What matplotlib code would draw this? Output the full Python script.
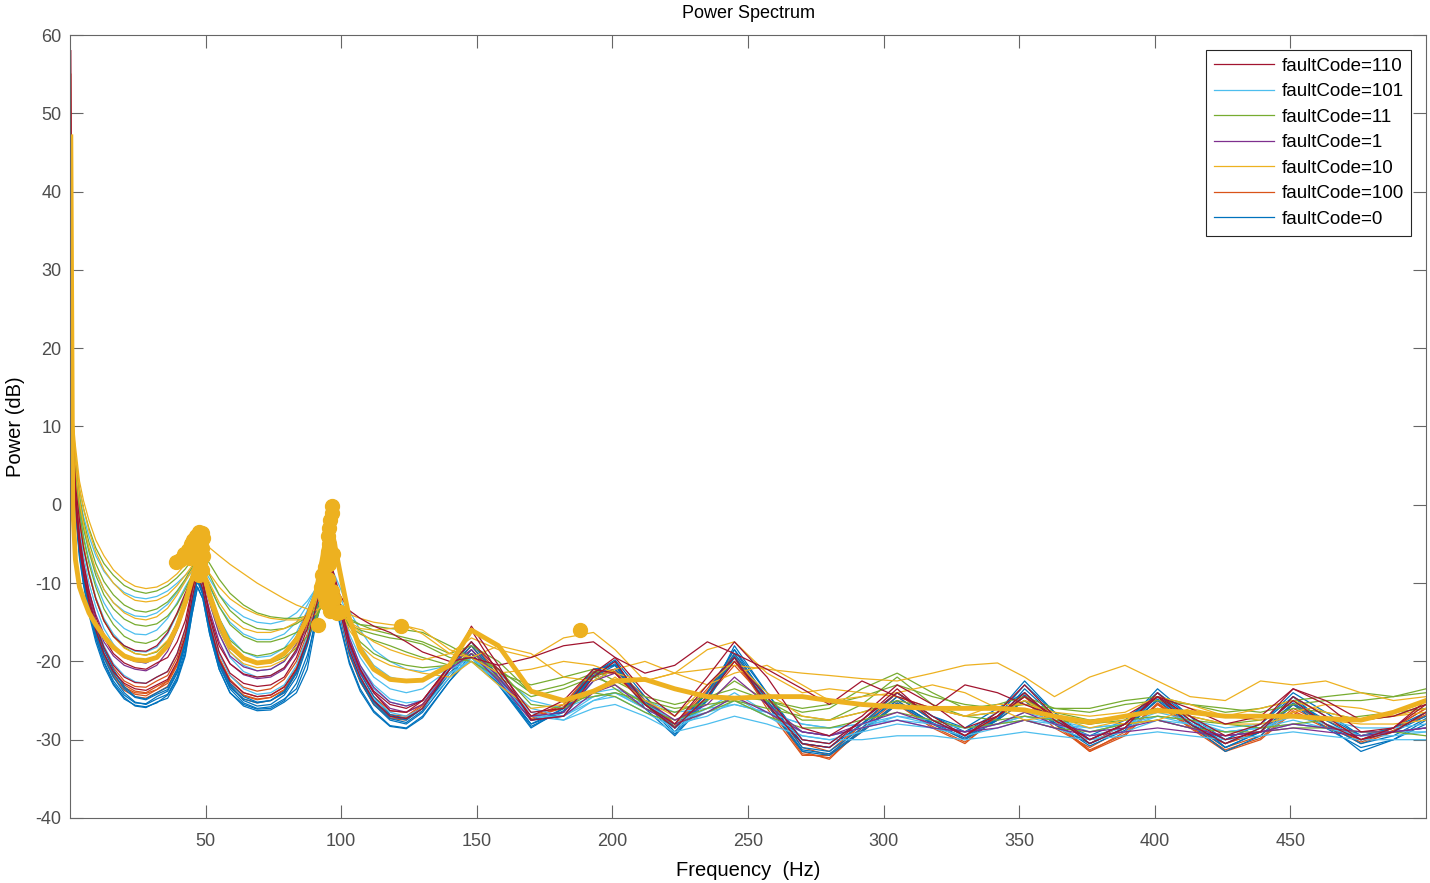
import matplotlib.pyplot as plt
import numpy as np

# frequency grids (Hz): fine below 130 Hz, coarser above
freq_low = [0.3, 1, 2, 3.5, 5, 7, 9.5, 12.5, 16, 20, 24, 28, 32, 36, 39.5, 42.5, 45, 47, 49, 51.5,
            55, 59, 64, 69, 74, 79, 83.5, 87.5, 90.5, 93, 95, 97, 99.5, 103, 107, 112, 118, 124, 130]
freq_high = [140, 148, 158, 170, 182, 193, 201, 212, 223, 235, 245, 257, 270, 280, 292, 305,
             318, 330, 342, 352, 363, 376, 389, 401, 413, 426, 439, 451, 463, 476, 488, 500]

# power (dB), a few traces per fault code
fc0_low = [
    [30, 8, 0, -6, -9.5, -13, -16.5, -19.5, -22, -24, -25.2, -25.5, -24.8, -24.2, -22, -18.5, -13.5, -9.5, -11.5, -16,
     -20.5, -23.5, -25.3, -26, -25.8, -24.8, -23.5, -20, -14.5, -11, -9, -10, -14, -19, -22.5, -25.5, -27.5, -28, -26.5],
    [20, 7, -0.5, -6.5, -10, -13.5, -17, -20, -22.5, -24.3, -25.3, -25.4, -24.5, -23.8, -21.5, -18, -13, -9, -11, -15.5,
     -20, -23, -25, -25.7, -25.5, -24.3, -22, -18, -14, -10.5, -8.5, -9.5, -13.5, -18.5, -22, -25, -27, -27.5, -26],
    [35, 9, 1, -5, -8.5, -12, -15.5, -18.5, -21, -23.2, -24.5, -24.8, -24, -23.3, -21, -17.5, -12.5, -9.8, -11.5, -16,
     -20.5, -23.3, -24.8, -25.3, -25, -24, -21.5, -17.5, -13.5, -10, -8, -9.5, -13, -18, -21.5, -24.5, -26.8, -27.3, -26],
    [25, 7.5, 0, -6, -9.8, -13.5, -17, -20.2, -22.8, -24.6, -25.7, -25.9, -25.2, -24.7, -22.5, -19.3, -14, -10.5, -12, -16.5,
     -21, -24, -25.7, -26.3, -26.2, -25.2, -24, -21, -15.5, -12, -9.5, -11, -15, -20, -23.5, -26.3, -28.2, -28.5, -27],
    [28, 8.5, 0.5, -5.5, -9, -12.5, -16, -19, -21.5, -23.5, -24.6, -24.9, -24.2, -23.6, -21.3, -17.8, -12.8, -9.2, -11, -15.5,
     -20, -22.8, -24.5, -25.2, -25, -23.8, -21.3, -17.3, -13.3, -10.3, -8.5, -9.8, -13.8, -18.8, -22.3, -25.2, -27.3, -27.8, -26.3],
    [22, 7, -0.8, -6.8, -10.3, -14, -17.5, -20.6, -23, -24.8, -25.6, -25.8, -25.3, -24.3, -22.3, -19, -14, -10.5, -12, -16.5,
     -21, -24, -25.5, -26.1, -26, -25, -22.8, -19.2, -15.3, -11.8, -9.8, -11.3, -15.3, -20.3, -23.8, -26.5, -28.3, -28.6, -27.2],
]
fc0_high = [
    [-22, -18.5, -22.5, -28, -26.5, -22, -20.5, -25, -29, -24.5, -19, -24.5, -31, -31.5, -28.5, -24.5,
     -27.5, -29.5, -27.5, -23.5, -27, -30.5, -28.5, -24.5, -27.5, -30.5, -28.5, -25, -27.5, -30, -29, -27],
    [-21.5, -19, -23, -28.5, -26, -21.5, -20, -25.5, -28.5, -24, -18.5, -25, -30.5, -31, -28, -25,
     -28, -29, -26.5, -22.5, -26.5, -30, -28, -23.5, -27, -31, -29, -24.5, -28, -31.5, -30, -28],
    [-21, -17.5, -22, -27.5, -27, -22.5, -21, -25, -28.5, -25, -18, -24, -30, -30.5, -27.5, -24,
     -27, -28.5, -26, -24, -27.5, -29.5, -27.5, -24, -28, -30, -28, -24, -26.5, -29.5, -29, -26.5],
    [-22.5, -19.5, -23, -28, -26, -21, -20.5, -26, -29.5, -25, -19.5, -25.5, -31.5, -32, -29, -25.5,
     -28, -30, -27.5, -25, -28, -30.5, -28.5, -25, -28, -31.5, -29.5, -25.5, -28.5, -31, -30, -27.5],
    [-21, -18, -22, -27.5, -26.5, -21.5, -19.8, -24.5, -28.5, -24, -18.5, -24, -30.5, -31, -28, -24,
     -27, -29, -27, -23, -26.5, -30, -28, -24, -27, -30, -28, -24.5, -27, -29.5, -28.5, -26.5],
    [-22.5, -19, -22.8, -28.3, -26.3, -21.8, -20.3, -25.3, -29.3, -24.8, -19.3, -25.3, -31.3, -31.8, -28.8, -25.3,
     -27.8, -29.8, -27.3, -24.3, -27.8, -30.8, -28.8, -24.8, -27.8, -31, -29, -25.3, -28, -30.5, -29.5, -27.3],
]

fc100_low = [
    [55, 8.5, 0.5, -5.5, -9, -12.5, -16, -19, -21.3, -23, -23.8, -24, -23.2, -22.5, -20.3, -17, -12, -8.8, -10.5, -15,
     -19.5, -22.3, -24, -24.5, -24.3, -23.2, -20.8, -17, -13, -10, -8, -9.5, -13.5, -18.5, -22, -25, -26.8, -27, -25.5],
    [40, 9, 1, -5, -8.5, -12, -15.5, -18.5, -20.8, -22.5, -23.2, -23.3, -22.5, -21.8, -19.5, -16.3, -11.5, -8.3, -10, -14.5,
     -19, -21.8, -23.3, -23.8, -23.5, -22.3, -20, -16.5, -12.5, -9.5, -7.5, -9, -13, -18, -21.5, -24.5, -26.3, -26.5, -25.5],
    [20, 7.5, 0, -6, -9.5, -13, -16.5, -19.5, -22, -23.7, -24.5, -24.7, -24, -23.2, -21, -17.8, -12.8, -9.3, -11.3, -15.8,
     -20.3, -23.2, -24.8, -25.3, -25, -24, -21.5, -17.8, -13.8, -10.8, -8.5, -10, -14, -19, -22.5, -25.5, -27.3, -27.5, -26],
    [30, 8, 0.3, -5.8, -9.3, -12.8, -16.3, -19.3, -21.7, -23.4, -24.2, -24.4, -23.6, -22.8, -20.5, -17.3, -12.3, -8.8, -10.8, -15.3,
     -19.8, -22.8, -24.4, -24.9, -24.6, -23.6, -21.2, -17.4, -13.4, -10.4, -8, -9.7, -13.7, -18.7, -22.2, -25.2, -27, -27.2, -25.7],
    [25, 7.8, 0, -6, -9.5, -13, -16.5, -19.5, -21.8, -23.3, -24, -24.1, -23.6, -22.5, -20.5, -17.3, -12.5, -9.5, -11.3, -15.5,
     -19.8, -22.8, -24.3, -24.8, -24.6, -23.7, -21.5, -17.8, -13.8, -10.6, -8.5, -10.2, -14.2, -19.2, -22.6, -25.5, -27.2, -27.4, -26],
]
fc100_high = [
    [-21, -18, -22, -27, -26, -22, -21, -24.5, -28, -24, -20, -25.5, -31.5, -32.5, -28.5, -25,
     -28, -30, -27, -24.5, -28, -31.5, -29, -25.5, -28, -31, -29.5, -26, -28, -30.5, -29, -26.5],
    [-20.5, -17.5, -21.5, -27.5, -26.5, -21.5, -21, -25, -28.5, -24.5, -20.5, -25, -31, -32, -28, -24.5,
     -27.5, -29.5, -27.5, -25, -28.5, -31, -28.5, -25, -28.5, -30.5, -29, -25.5, -28, -30, -28.5, -26],
    [-21.5, -18.5, -22.5, -27.5, -25.5, -21.5, -21.5, -25.5, -28.5, -24, -19.5, -26, -32, -32, -29, -25.5,
     -28.5, -30.5, -27, -24, -27.5, -31.5, -29.5, -25.5, -28.5, -31.5, -30, -26.5, -28.5, -30, -28.5, -27],
    [-20.5, -17.5, -22, -27, -25.5, -21, -20.5, -25, -28, -23.5, -19, -25, -30.5, -31.5, -28, -24,
     -27.5, -29.5, -27, -24.5, -28, -30.5, -28, -24.5, -28, -30.5, -29, -25.5, -27.5, -29.5, -28.5, -26],
    [-21, -18, -22.3, -27.3, -25.8, -21.3, -21.3, -25.3, -28.3, -23.8, -19.3, -25.5, -31.8, -32.3, -28.8, -25.3,
     -28.3, -30.3, -27.3, -24.3, -27.8, -31.3, -29.3, -25.3, -28.3, -31.3, -29.8, -26.3, -28.3, -30.3, -28.8, -26.8],
]

fc101_low = [
    [15, 10, 5, 1, -1.5, -4, -6.5, -8.5, -10, -11.2, -11.8, -12, -11.7, -11, -10, -9, -8.2, -7.5, -8, -9.5,
     -11.5, -13, -14.3, -15, -15.2, -14.8, -13.8, -12.3, -10.8, -9, -7.8, -8.5, -10.5, -13.5, -16, -18.5, -20, -21, -21.3],
    [20, 9, 3.5, -1, -4, -7, -10, -12.5, -14.5, -15.8, -16.5, -16.6, -16, -14.5, -12.5, -10.5, -9, -8, -9, -11.5,
     -14.5, -17, -18.8, -19.5, -19.3, -18.3, -16.3, -13.5, -11, -8.8, -8, -9.5, -12.5, -16.5, -19.5, -22, -23.5, -24, -23.5],
    [25, 8.5, 2, -3, -6.5, -10, -13, -15.8, -17.8, -19.3, -20, -20.2, -19.5, -17.8, -15.3, -12.5, -10.3, -8.5, -9.5, -12.5,
     -16.5, -19.5, -21.3, -22, -21.8, -20.8, -18.5, -15.3, -12.5, -9.8, -8.5, -10, -13.5, -17.5, -20.8, -23.5, -25.2, -25.7, -25],
    [22, 8, 1, -4.5, -8, -11.5, -15, -18, -20.3, -21.8, -22.6, -22.8, -22, -21.3, -19, -16, -11.8, -8.7, -10.5, -14.5,
     -19, -21.8, -23.5, -24.2, -24, -23, -20.5, -16.8, -13, -10, -8.3, -10, -14, -18.5, -22, -24.8, -26.5, -27, -26],
    [18, 9, 3, -2, -5.5, -8.5, -11.8, -14.5, -16.5, -18, -18.7, -18.8, -18.2, -16.5, -14, -11.5, -9.5, -7.5, -8.8, -12,
     -15.8, -18.8, -20.5, -21.2, -21, -20, -17.8, -14.8, -12, -9.3, -7.8, -9.5, -13, -17, -20.5, -23, -24.8, -25.3, -25],
    [16, 9.5, 4, -0.5, -3, -5.8, -8.5, -10.8, -12.5, -13.6, -14.2, -14.3, -13.8, -12.7, -11.2, -9.7, -8.5, -7.8, -8.5, -10.5,
     -13, -15, -16.5, -17.2, -17.2, -16.5, -15, -12.8, -10.8, -8.8, -7.8, -9, -11.5, -15, -18, -20.5, -22, -22.5, -22.3],
]
fc101_high = [
    [-20.5, -19.5, -21, -24, -25, -24, -23.5, -25, -26.5, -26, -25.5, -26.5, -28, -28.5, -28, -27,
     -27.5, -28.5, -28, -27, -27.5, -28.5, -28, -27, -27.5, -28.5, -28, -27, -27.5, -28.5, -28.5, -28],
    [-21, -19.5, -22, -26, -27, -25, -24, -26, -28, -27, -25, -27, -29, -29.5, -28.5, -27.5,
     -28.5, -29, -28, -27, -28, -29.5, -28.5, -27, -28, -29, -28.5, -27.5, -28.5, -29.5, -29, -28.5],
    [-21.5, -20, -23, -27, -27.5, -25, -24.5, -26.5, -28.5, -26.5, -24.5, -27, -29.5, -30, -29, -28,
     -28.5, -29.5, -28.5, -27.5, -28.5, -30, -29, -27.5, -28.5, -29.5, -29, -28, -28.5, -29.5, -29.5, -29],
    [-22, -19.5, -22.5, -27, -27, -24.5, -24, -26, -28, -26, -24, -26.5, -29, -29.5, -28.5, -27,
     -28, -29, -28, -26.5, -27.5, -29, -28, -26.5, -27.5, -29, -28.5, -27, -28, -29.5, -29, -28.5],
    [-21.5, -20, -22.5, -26.5, -27.5, -26, -25.5, -27, -29, -28, -27, -28, -29.5, -30, -30, -29.5,
     -29.5, -30, -29.5, -29, -29.5, -30, -29.5, -29, -29.5, -30, -29.5, -29, -29.5, -30, -30, -30],
    [-21, -20, -21.5, -25, -26, -24.5, -24, -25.5, -27.5, -26.5, -25.5, -26.5, -28, -28.5, -28, -27.5,
     -28, -28.5, -28, -27.5, -28, -28.5, -28, -27.5, -28, -29, -28.5, -28, -28.5, -29, -29, -29],
]

fc110_low = [
    [58, 8, 0.5, -5, -8.5, -12, -15.3, -18.2, -20.5, -22, -22.7, -22.8, -22, -21.3, -19, -15.8, -11, -7.8, -9.8, -14.3,
     -18.8, -21.5, -22.8, -23.2, -23, -22, -19.5, -15.8, -12, -8.8, -6.5, -8.5, -12.5, -17.5, -21, -24, -26.3, -26.5, -25],
    [35, 9.5, 2.5, -2, -5.5, -8.8, -12, -14.8, -16.8, -18, -18.6, -18.7, -18, -16.3, -13.8, -11.3, -9.3, -7.5, -8.5, -11.5,
     -15.5, -18.3, -19.7, -20.2, -20, -19, -16.8, -13.8, -11, -8.5, -7, -8.5, -11.5, -13.5, -14.5, -15.5, -16.3, -17.5, -18.8],
    [25, 8.5, 1.5, -4, -7.5, -11, -14.3, -17, -19, -20.2, -20.8, -21, -20.2, -19.5, -17.5, -14.8, -10.8, -8.2, -10, -14,
     -18, -20.3, -21.6, -22, -21.8, -20.8, -18.5, -15, -11.5, -8.8, -7, -8.8, -12.8, -17.5, -21, -23.8, -25.5, -26, -25],
    [30, 7.5, 0, -5.5, -9, -12.5, -16, -19, -21.3, -22.8, -23.5, -23.7, -23, -22.3, -20, -16.8, -12, -8.8, -10.8, -15.2,
     -19.8, -22.5, -24, -24.5, -24.3, -23.3, -21, -17.3, -13.3, -10, -7.5, -9.5, -13.5, -18.5, -22, -25, -27, -27.3, -26],
]
fc110_high = [
    [-20.5, -16, -21.5, -27, -25, -21, -21.5, -25.5, -28, -23, -19.5, -25.5, -30.5, -31, -27.5, -24,
     -27, -29.5, -27, -24, -27.5, -30, -28, -24.5, -28, -30.5, -28.5, -25, -28, -30, -28.5, -25.5],
    [-20, -19.5, -20.5, -19.5, -18, -17.5, -19.5, -21.5, -20.5, -17.5, -19, -21, -23.5, -25.5, -22.5, -24.5,
     -26, -23, -24, -25.5, -27, -28, -27, -24.5, -26, -28, -27, -23.5, -25, -27.5, -27, -25.5],
    [-20.5, -17.5, -21, -26.5, -26, -21.5, -19.5, -24, -27, -22, -17.5, -22, -28.5, -29.5, -27, -23,
     -25.5, -28.5, -27, -24.5, -27, -30, -28, -24.5, -27, -29.5, -28, -23.5, -25.5, -29, -28.5, -25],
    [-21, -15.5, -20.5, -27.5, -27, -22, -20, -25.5, -28.5, -24.5, -20, -24.5, -30, -30.5, -27.5, -23.5,
     -27.5, -29.5, -26.5, -23, -27, -30.5, -28.5, -24, -27.5, -30, -29, -24.5, -27, -30, -29, -26.5],
]

fc11_low = [
    [15, 11, 6, 2, -0.5, -3, -5.5, -7.5, -9, -10.3, -11, -11.3, -11, -10.3, -9.3, -8.2, -7, -5.8, -6.3, -7.5,
     -9.5, -11.3, -12.8, -13.8, -14.3, -14.5, -14.5, -14.2, -13.5, -12, -10, -11.5, -13.5, -14.8, -15.3, -15.5, -15.8, -16, -16.3],
    [18, 10, 4.5, 0, -3, -6, -9, -11.5, -13.3, -14.6, -15.3, -15.5, -15.2, -14.2, -12.7, -10.8, -9, -7.5, -8.3, -10.3,
     -13, -15.3, -16.8, -17.5, -17.5, -17, -16.3, -15.5, -14.5, -12.8, -10.5, -12, -14, -15.3, -16, -16.5, -17, -17.3, -17.8],
    [20, 9, 3, -2, -5.3, -8.8, -12, -14.8, -16.8, -18.2, -19, -19.2, -18.8, -17.5, -15.5, -13, -10.8, -8.3, -9.3, -12,
     -15.5, -18.3, -19.8, -20.3, -20.2, -19.5, -18.3, -16.8, -15, -12.5, -9.5, -11, -13.5, -15.5, -16.5, -17.3, -18, -18.8, -19.5],
    [25, 9.5, 3.5, -1, -4.3, -7.5, -10.5, -13.3, -15.3, -16.8, -17.5, -17.7, -17.2, -16, -14, -11.8, -9.5, -7, -8.3, -11,
     -14.5, -17.3, -18.8, -19.3, -19, -18.3, -17.3, -16, -14.5, -12, -8.5, -10, -12.5, -14.5, -15.3, -16, -16.5, -17, -17.5],
    [16, 10.5, 5.5, 1, -2, -4.8, -7.5, -9.8, -11.5, -12.8, -13.5, -13.7, -13.3, -12.4, -11, -9.5, -8, -6.5, -7.3, -9,
     -11.5, -13.5, -15, -15.8, -16, -15.8, -15.2, -14.3, -13, -11.3, -9, -10.5, -13, -15.5, -17.5, -19, -20, -20.5, -20.8],
]
fc11_high = [
    [-18, -19.5, -21.5, -23, -22, -21, -22.5, -24.5, -25.5, -24.5, -23.5, -25, -26, -25.5, -24.5, -23,
     -24.5, -25.5, -26, -25.5, -26, -26.5, -25.5, -25, -25.5, -26, -26.5, -25.5, -25, -25, -24.5, -24],
    [-19.5, -20, -22, -24.5, -23.5, -22, -23, -25.5, -26.5, -25, -22.5, -25, -27.5, -27.5, -25.5, -22,
     -25.5, -27, -26.5, -25, -26.5, -27.5, -27, -26, -27, -28, -27.5, -26, -26.5, -27.5, -27, -25.5],
    [-20.5, -19, -21, -25.5, -26, -24, -24.5, -26.5, -28, -26.5, -25, -27, -28.5, -28.5, -27.5, -26.5,
     -27.5, -28.5, -28, -27.5, -28.5, -29, -28, -27.5, -28.5, -29, -29, -28.5, -28.5, -29, -29, -29.5],
    [-19, -18, -20, -24, -23, -21.5, -23.5, -26, -27.5, -26, -24.5, -25, -26.5, -26, -23.5, -21.5,
     -24, -26, -25.5, -24.5, -26, -26, -25, -24.5, -25.5, -26.5, -26, -25, -24.5, -24, -24.5, -23.5],
    [-20.5, -19.5, -21, -24, -25, -24.5, -24, -25, -26, -25.5, -25, -26, -27, -27.5, -26.5, -25,
     -26, -27, -27.5, -27, -27.5, -28, -27.5, -27, -27.5, -28, -28.5, -28, -27.5, -27, -26.5, -26],
]

fc10_low = [
    [12, 11.5, 7.5, 3, 0.5, -2, -4.5, -6.5, -8.3, -9.6, -10.4, -10.7, -10.5, -9.8, -8.8, -7.6, -6, -4.5, -4.8, -5.5,
     -6.5, -7.6, -8.8, -10, -11, -12, -12.8, -13.3, -13.5, -13, -11.5, -12.5, -13.5, -14, -14.5, -15, -15.3, -15.5, -16],
    [16, 10.5, 5, 0.5, -2.5, -5.5, -8.3, -10.8, -12.5, -13.8, -14.5, -14.7, -14.3, -13.2, -11.5, -9.8, -8.3, -7.3, -8.2, -10,
     -12.5, -14.5, -15.8, -16.3, -16.3, -15.8, -15, -14, -12.8, -11.5, -10.5, -12, -13.5, -15, -16.3, -17.5, -18.5, -19.2, -19.8],
    [20, 9, 3, -2, -5.3, -8.8, -12, -14.8, -16.8, -18.3, -19, -19.2, -18.7, -17.3, -15.2, -12.8, -10.5, -8.3, -9.5, -12.5,
     -16, -18.8, -20.3, -20.8, -20.6, -19.8, -18, -15.3, -12.5, -10, -8.5, -10, -13, -16, -18, -19.5, -20.5, -21, -21.5],
    [14, 11, 6.5, 2, -0.5, -3.3, -6, -8.3, -10, -11.4, -12.2, -12.4, -12.2, -11.5, -10.3, -9, -7.8, -6.5, -7.3, -8.8,
     -10.5, -12, -13.2, -14, -14.5, -14.7, -14.7, -14.5, -14, -12.5, -10, -11.5, -13.5, -15, -15.8, -16, -15.8, -15.5, -16.5],
]
fc10_high = [
    [-18.5, -19.5, -21.5, -21, -20, -20.5, -21.5, -22.5, -21.5, -21, -20.5, -21, -21.5, -21.8, -22.2, -22.5,
     -21.5, -20.5, -20.2, -22, -24.5, -22, -20.5, -22.5, -24.5, -25, -22.5, -23, -22.5, -24, -25, -24.5],
    [-19, -17, -18.5, -19.5, -17, -16.3, -18.5, -22.5, -21.5, -18.5, -17.5, -21.5, -24, -23.5, -24, -24.5,
     -26, -27, -25.5, -25.5, -26.5, -27, -26.5, -24.5, -25.5, -27, -26, -25, -26.5, -27.5, -27, -26],
    [-22, -20, -23, -26, -25.5, -24, -22, -25, -27, -23, -20, -24, -27, -27.5, -26.5, -25.5,
     -26, -27, -26.5, -25, -27, -28.5, -27.5, -26, -27, -28, -28, -27, -27.5, -28, -28, -27.5],
    [-19, -19.5, -18, -19, -22, -22.5, -21, -20, -21.5, -23, -21.5, -20.5, -23, -25, -24.5, -24,
     -23, -24, -26, -27.5, -27, -27.5, -28, -27.5, -26, -27, -27.5, -26.5, -25.5, -26, -27, -26.5],
]

fc1_low = [
    [25, 8.5, 1.5, -4, -7.5, -11, -14, -16.5, -18.3, -19.5, -20, -20.2, -19.5, -17.7, -15, -12.3, -10, -8, -9.3, -12.5,
     -16.5, -19.3, -20.7, -21.2, -21, -20, -17.8, -14.5, -11.3, -8.8, -7.5, -9, -12.5, -17, -20.5, -23.3, -25.2, -25.7, -25],
    [22, 8, 1, -4.5, -8, -11.5, -14.8, -17.5, -19.3, -20.5, -21, -21.2, -20.5, -18.7, -16, -13, -10.5, -8.5, -10, -13.5,
     -17.5, -20.3, -21.7, -22.2, -22, -21, -18.8, -15.3, -12, -9.5, -8, -9.8, -13.3, -17.8, -21.3, -24, -26, -26.5, -25.5],
]
fc1_high = [
    [-20.5, -18.5, -22, -27, -26.5, -22.5, -21.5, -25, -27.5, -25.5, -22, -25.5, -29, -29.5, -28, -26.5,
     -28, -29, -28, -26.5, -28, -29, -28.5, -27.5, -28.5, -29.5, -29, -28, -28.5, -29, -29, -28.5],
    [-21, -19, -22.5, -27.5, -27, -24, -23, -26, -28, -26.5, -24.5, -26.5, -29, -29.5, -28.5, -27.5,
     -28.5, -29, -28.5, -27.5, -28.5, -29.5, -29, -28.5, -29, -29.5, -29, -28.5, -29, -29.5, -29, -28.5],
]

# highlighted trace (thick line)
highlight_low = [47, 0, -7, -10.5, -12, -13.8, -15.3, -16.8, -18.2, -19.3, -19.8, -19.9, -19.5, -18, -15.5, -12.5,
                 -9.5, -7, -8.5, -11.5, -15, -18, -19.6, -20.2, -20, -19, -17.2, -14.5, -11.5, -7, -3, -4, -8.5,
                 -14.5, -18.5, -21, -22.3, -22.5, -22.4]
highlight_high = [-20.5, -16, -18, -23.8, -25, -23.8, -22.5, -22.3, -23.5, -24.5, -24.7, -24.5, -24.5, -25, -25.5,
                  -25.8, -26, -26, -26, -26.2, -27, -27.8, -27, -26.3, -26.5, -27, -27, -27, -27.3, -27.5, -26.5, -25]

# detected peaks
peak_f = [39, 40.5, 42, 43.5, 44.5, 45.5, 46.5, 47.5, 48.5, 49, 48.5, 49, 48, 48.5, 47.5, 46, 44, 47,
          96.5, 96.5, 96, 95.5, 95, 95.5, 95, 96, 97, 95.5, 94, 93, 95, 92.5, 93.5, 96.5, 97.5, 96, 98.5,
          99.5, 91.5, 94.5, 122, 188]
peak_db = [-7.3, -7, -6.3, -5.8, -5, -4.5, -4, -3.5, -3.6, -4.2, -5.5, -6.5, -7.5, -8.3, -9, -6, -6.8, -5.5,
           -0.2, -1, -2, -3, -4, -5, -6, -6.5, -6.3, -7.5, -8, -9, -9.5, -10.5, -11.5, -11, -12, -13.5, -13.8,
           -13.7, -15.3, -12.5, -15.5, -16]

labels = ['faultCode=110', 'faultCode=101', 'faultCode=11', 'faultCode=1',
          'faultCode=10', 'faultCode=100', 'faultCode=0']

plt.rcParams['font.family'] = ['Liberation Sans', 'DejaVu Sans']
plt.rcParams['axes.unicode_minus'] = False

fig = plt.figure(figsize=(14.3, 8.83), dpi=100)
ax = fig.add_axes([70 / 1430, 65 / 883, 1356 / 1430, 783 / 883])

freq = freq_low + freq_high

groups = [
    (fc100_low, fc100_high, '#D95319', 'faultCode=100'),
    (fc0_low, fc0_high, '#0072BD', 'faultCode=0'),
    (fc101_low, fc101_high, '#4DBEEE', 'faultCode=101'),
    (fc11_low, fc11_high, '#77AC30', 'faultCode=11'),
    (fc1_low, fc1_high, '#7E2F8E', 'faultCode=1'),
    (fc10_low, fc10_high, '#EDB120', 'faultCode=10'),
    (fc110_low, fc110_high, '#A2142F', 'faultCode=110'),
]

handles = {}
for lows, highs, color, name in groups:
    for lo, hi in zip(lows, highs):
        h, = ax.plot(freq, lo + hi, color=color, lw=0.9)
    handles[name] = h

ax.plot(freq, highlight_low + highlight_high, color='#EDB120', lw=3.5, solid_joinstyle='round')
ax.plot(peak_f, peak_db, 'o', color='#EDB120', ms=10, mec='#EDB120')

ax.set_xlim(0, 500)
ax.set_ylim(-40, 60)
ax.set_xticks(np.arange(50, 500, 50))
ax.set_yticks(np.arange(-40, 61, 10))

for s in ax.spines.values():
    s.set_color('#666666')
    s.set_linewidth(0.8)
ax.tick_params(direction='in', length=9.5, width=0.8, colors='#666666',
               labelcolor='#4d4d4d', labelsize=13, top=True, right=True)
ax.tick_params(axis='x', pad=11)
ax.tick_params(axis='y', pad=6)

ax.set_xlabel('Frequency  (Hz)', fontsize=14.5, labelpad=8)
ax.set_ylabel('Power (dB)', fontsize=14.5, labelpad=8)
ax.set_title('Power Spectrum', fontsize=13, pad=12)

leg = ax.legend([handles[l] for l in labels], labels, loc='upper right',
                fontsize=13.5, handlelength=3.2, borderaxespad=0.8,
                fancybox=False, framealpha=1, edgecolor='#262626',
                labelspacing=0.45, handletextpad=0.4, borderpad=0.4)
leg.get_frame().set_linewidth(0.8)

fig.savefig('out.png', dpi=100)
